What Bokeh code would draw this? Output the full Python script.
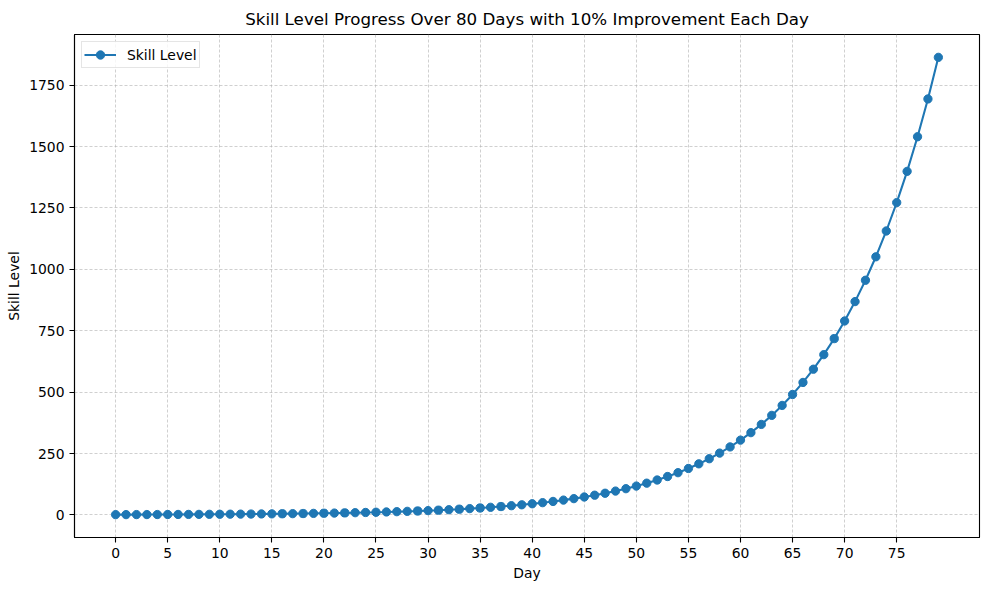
from bokeh.plotting import figure
from bokeh.models import FixedTicker, Range1d, ColumnDataSource
from bokeh.embed import file_html
from bokeh.resources import INLINE

# Day index and skill level for each day
days = list(range(80))
skill = [
    1.00, 1.10, 1.21, 1.33, 1.46, 1.61, 1.77, 1.95, 2.14, 2.36,
    2.59, 2.85, 3.14, 3.45, 3.80, 4.18, 4.59, 5.05, 5.56, 6.12,
    6.73, 7.40, 8.14, 8.95, 9.85, 10.83, 11.92, 13.11, 14.42, 15.86,
    17.45, 19.19, 21.11, 23.23, 25.55, 28.10, 30.91, 34.00, 37.40, 41.14,
    45.26, 49.79, 54.76, 60.24, 66.26, 72.89, 80.18, 88.20, 97.02, 106.72,
    117.39, 129.13, 142.04, 156.25, 171.87, 189.06, 207.97, 228.76, 251.64, 276.80,
    304.48, 334.93, 368.42, 405.27, 445.79, 490.37, 539.41, 593.35, 652.68, 717.95,
    789.75, 868.72, 955.59, 1051.15, 1156.27, 1271.90, 1399.08, 1539.99, 1693.99, 1863.39,
]
x_ticks = list(range(0, 80, 5))
y_ticks = list(range(0, 2000, 250))

FONT = "DejaVu Sans"
BLUE = "#1f77b4"

source = ColumnDataSource(data=dict(day=days, skill=skill))

p = figure(
    width=989, height=590,
    output_backend="svg", toolbar_location=None,
    x_range=Range1d(-3.95, 82.95), y_range=Range1d(-92.1, 1956.5),
    title="Skill Level Progress Over 80 Days with 10% Improvement Each Day",
    min_border_left=74, min_border_right=10, min_border_top=33, min_border_bottom=53,
)
p.background_fill_color = "white"
p.border_fill_color = "white"
p.outline_line_color = "black"
p.outline_line_width = 1.1

p.title.text_font = FONT
p.title.text_font_size = "16.7px"
p.title.text_font_style = "normal"
p.title.align = "center"
p.title.text_color = "black"
p.title.standoff = 12

p.line("day", "skill", source=source, color=BLUE, line_width=2.08, legend_label="Skill Level")
p.scatter("day", "skill", source=source, size=8.3, color=BLUE, legend_label="Skill Level")

p.xaxis.ticker = FixedTicker(ticks=x_ticks)
p.yaxis.ticker = FixedTicker(ticks=y_ticks)
p.xaxis.axis_label = "Day"
p.yaxis.axis_label = "Skill Level"

for ax in (p.xaxis, p.yaxis):
    ax.axis_line_color = "black"
    ax.axis_line_width = 1.1
    ax.major_tick_in = 0
    ax.major_tick_out = 5
    ax.major_tick_line_width = 1.1
    ax.minor_tick_line_color = None
    ax.major_label_text_font = FONT
    ax.major_label_text_font_size = "13.9px"
    ax.major_label_text_color = "black"
    ax.axis_label_text_font = FONT
    ax.axis_label_text_font_size = "13.9px"
    ax.axis_label_text_font_style = "normal"
    ax.axis_label_text_color = "black"
    ax.major_label_standoff = 5
p.xaxis.axis_label_standoff = 4
p.yaxis.axis_label_standoff = 4

for g in (p.xgrid, p.ygrid):
    g.grid_line_color = "#b0b0b0"
    g.grid_line_width = 0.6
    g.grid_line_dash = "3 2"

lg = p.legend[0]
lg.location = "top_left"
lg.margin = 7
lg.padding = 2
lg.spacing = 0
lg.glyph_width = 32
lg.glyph_height = 21
lg.label_standoff = 11
lg.label_text_font = FONT
lg.label_text_font_size = "13.9px"
lg.label_text_color = "black"
lg.label_height = 21
lg.border_line_color = "#cccccc"
lg.border_line_width = 1
lg.background_fill_alpha = 0.8

open("out.html", "w").write(file_html(p, INLINE))
